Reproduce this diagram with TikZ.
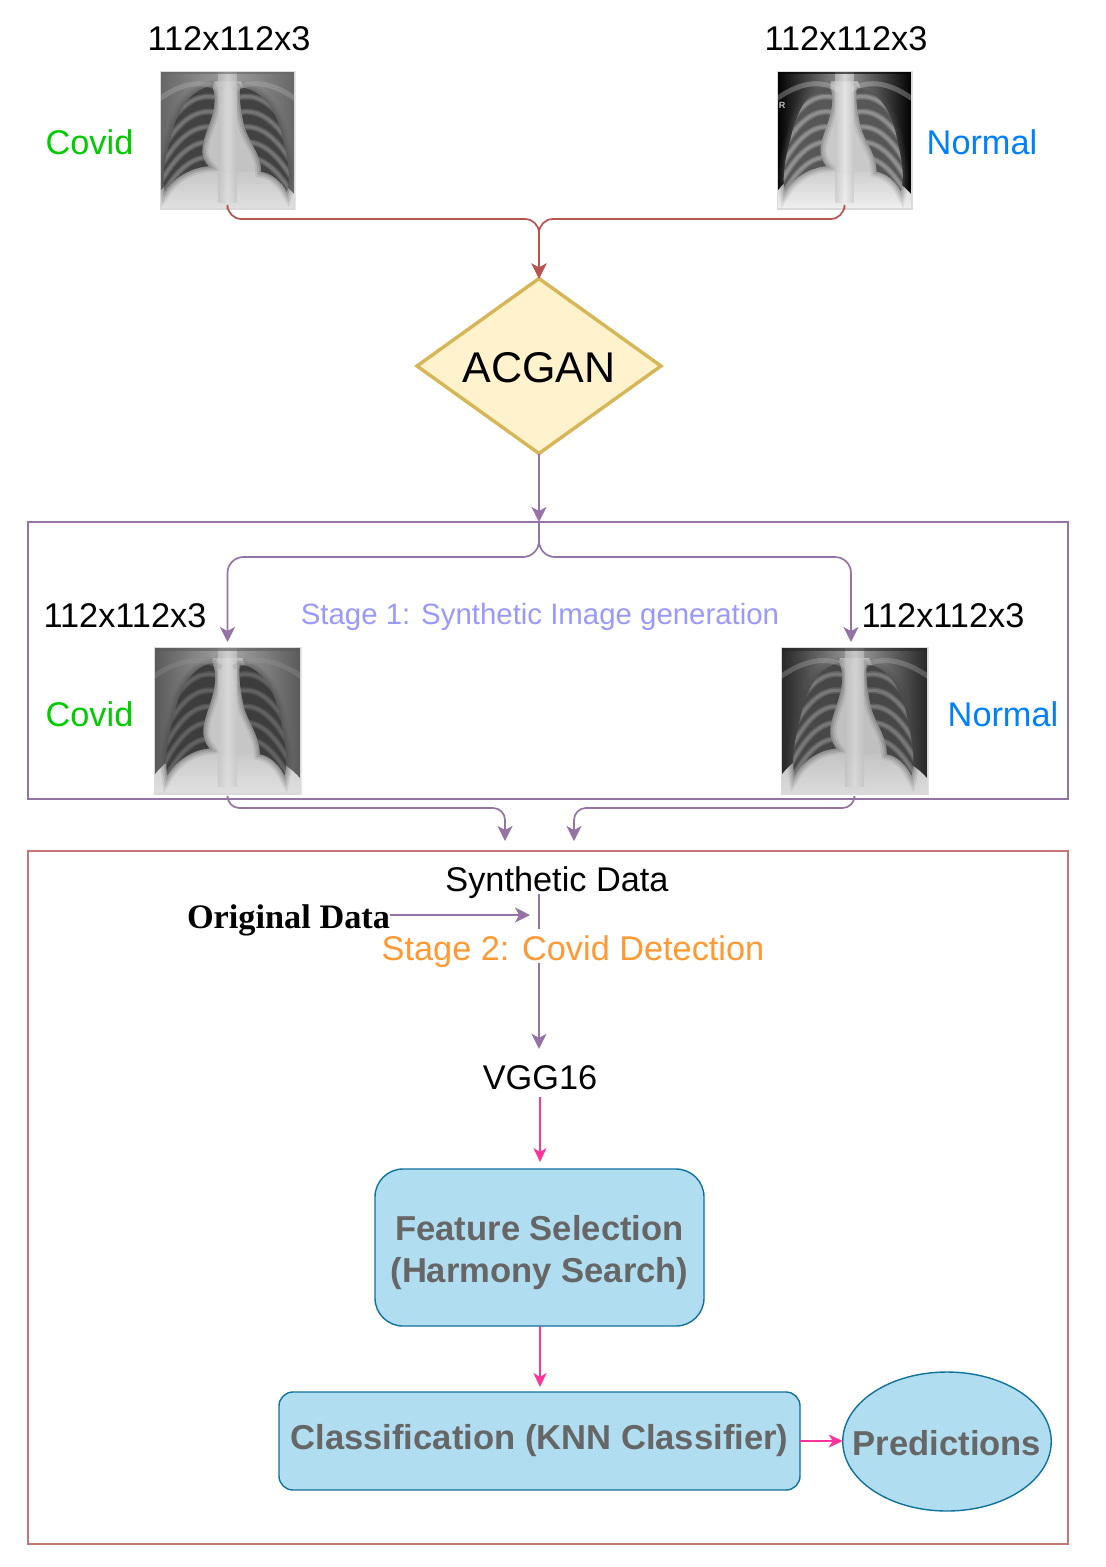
\documentclass[tikz,border=0pt]{standalone}
\usepackage{fontspec}
\setmainfont{Liberation Sans}
\newfontfamily\timesfont{Liberation Serif}
\usepackage{tikz}
\usetikzlibrary{arrows.meta, positioning, shapes.geometric}

\definecolor{linered}{HTML}{B85450}
\definecolor{linepurple}{HTML}{9673A6}
\definecolor{linepink}{HTML}{FF3399}
\definecolor{boxblue}{HTML}{B1DDF0}
\definecolor{edgeblue}{HTML}{10739E}
\definecolor{diafill}{HTML}{FFF2CC}
\definecolor{diaedge}{HTML}{D6B656}
\definecolor{covidgreen}{HTML}{00CC00}
\definecolor{normalblue}{HTML}{007FFF}
\definecolor{stagelilac}{HTML}{9999FF}
\definecolor{stageorange}{HTML}{FF9933}

\newcommand{\sizeA}{\fontsize{34.3}{41.5}\selectfont}
\newcommand{\sizeB}{\fontsize{34.6}{41.5}\selectfont}
\newcommand{\dropped}[2]{\raisebox{0pt}[\dimexpr\height+#1*2\relax][\depth]{#2}}
\newcommand{\lungL}{(-.23,-.78) .. controls (-.5,-.75) and (-.72,-.5) .. (-.82,-.1) .. controls (-.92,.25) and (-.98,.5) .. (-.93,.75) .. controls (-.8,.55) and (-.55,.4) .. (-.28,.38) .. controls (-.45,.2) and (-.35,0) .. (-.3,-.15) .. controls (-.2,-.4) and (-.15,-.6) .. cycle}
\newcommand{\lungR}{(.19,-.76) .. controls (.45,-.75) and (.7,-.5) .. (.8,-.1) .. controls (.88,.25) and (.95,.5) .. (.88,.75) .. controls (.8,.6) and (.65,.48) .. (.5,.46) .. controls (.5,.2) and (.3,0) .. (.25,-.2) .. controls (.2,-.4) and (.17,-.6) .. cycle}

\newcommand{\chestxray}[9]{%
	\begin{scope}[shift={(#1.center)}, x=#2*.5pt, y=-#3*.5pt]
		\colorlet{bodytone}{#5}
		\colorlet{bellytone}{#8}
		\colorlet{midtone}{bodytone!45!bellytone}
		\clip (-1,-1) rectangle (1,1);
		\shade[left color=#4, right color=#4, middle color=bodytone] (-1,-1) rectangle (1,1);
		\fill[midtone] (-.2,-.85) -- (.2,-.85) -- (.75,.6) -- (-.45,.6) -- cycle;
		\shade[top color=midtone, bottom color=bellytone] (-1,1) -- (-1,.75) .. controls (-.7,.35) and (-.3,.35) .. (0,.5) .. controls (.3,.4) and (.7,.45) .. (1,.8) -- (1,1) -- cycle;
		\begin{scope}[xscale=#9]
			\foreach \w/\o in {12/.1,8/.15,4/.2} {
				\draw[#6, line width=\w pt, opacity=\o] \lungL;
				\draw[#6, line width=\w pt, opacity=\o] \lungR;
			}
			\fill[#6] \lungL;
			\fill[#6] \lungR;
			\begin{scope}
				\clip \lungL;
				\foreach \r in {-.8,-.58,...,.6} {
					\draw[#7, line width=6pt, opacity=.2] (-.05,\r) .. controls (-.4,\r-.15) and (-.7,\r+.03) .. (-1,\r+.55);
					\draw[#7, line width=3pt, opacity=.25] (-.05,\r) .. controls (-.4,\r-.15) and (-.7,\r+.03) .. (-1,\r+.55);
				}
			\end{scope}
			\begin{scope}
				\clip \lungR;
				\foreach \r in {-.8,-.58,...,.6} {
					\draw[#7, line width=6pt, opacity=.2] (.05,\r) .. controls (.4,\r-.15) and (.7,\r+.03) .. (1,\r+.55);
					\draw[#7, line width=3pt, opacity=.25] (.05,\r) .. controls (.4,\r-.15) and (.7,\r+.03) .. (1,\r+.55);
				}
			\end{scope}
		\end{scope}
		\shade[left color=midtone, right color=midtone, middle color=bellytone, opacity=.7] (-.13,-1) rectangle (.13,.9);
		\draw[#7, line width=5pt, opacity=.3] (-1,-.6) .. controls (-.6,-.88) and (-.3,-.85) .. (-.08,-.72);
		\draw[#7, line width=5pt, opacity=.3] (1,-.6) .. controls (.6,-.88) and (.3,-.85) .. (.08,-.72);
		\fill[#4, opacity=.6] (-1,-1) rectangle (1,-.95);
		\draw[black!15, line width=1.5pt] (-1,-1) rectangle (1,1);
	\end{scope}
}

\begin{document}
\begin{tikzpicture}[x=1pt, y=-1pt]
	
	\tikzset{
		plain text/.style={font=\sizeA, inner sep=0pt},
		xray frame/.style={inner sep=0pt, outer sep=0pt},
		stage frame/.style={draw=#1, line width=1.7pt, inner sep=0pt, outer sep=0pt},
		flow box/.style={draw=edgeblue, fill=boxblue, line width=1.4pt, font=\sizeB\bfseries, text=black!60, align=center, inner sep=0pt, outer sep=0pt},
		flow red/.style={draw=linered, line width=1.7pt, rounded corners=14pt, -{Stealth[length=15pt,width=15pt,inset=4pt]}},
		flow plain/.style={draw=linepurple, line width=1.7pt},
		flow purple/.style={flow plain, rounded corners=16pt, -{Stealth[length=15pt,width=15pt,inset=4pt]}},
		flow pink/.style={draw=linepink, line width=1.8pt, -{Stealth[length=14pt,width=13pt,inset=4pt]}},
	}
	
	\useasboundingbox[fill=white] (0,0) rectangle (1106,1567);
	
	\node (stageA) [stage frame=linepurple, minimum width=1040pt, minimum height=277pt] at (548,660.5) {};
	\node (stageC) [stage frame=linered!80, minimum width=1040pt, minimum height=693pt] at (548,1197.5) {};
	
	\node (covA) [xray frame, minimum width=135pt, minimum height=138pt] at (227.5,140) {};
	\node (norA) [xray frame, minimum width=135pt, minimum height=138pt] at (844.5,140) {};
	\node (covB) [xray frame, minimum width=147pt, minimum height=147pt] at (227.5,720.5) {};
	\node (norB) [xray frame, minimum width=147pt, minimum height=147pt] at (854.5,720.5) {};
	
	\chestxray{covA}{135}{138}{black!60}{black!38}{black!74}{black!25}{black!12}{1}
	\chestxray{norA}{135}{138}{black}{black!40}{black!66}{black!10}{black!6}{.95}
	\chestxray{covB}{147}{147}{black!65}{black!35}{black!76}{black!40}{black!12}{.88}
	\chestxray{norB}{147}{147}{black!85}{black!38}{black!72}{black!25}{black!14}{.88}
	\node (tagR) [font=\fontsize{9}{9}\selectfont\bfseries, text=black!25, inner sep=0pt] at (782,105) {R};
	
	\node (sizeA) [plain text] at (229,39) {112x112x3};
	\node (sizeB) [plain text] at (846,39) {112x112x3};
	\node (sizeC) [plain text] at (125,616) {112x112x3};
	\node (sizeD) [plain text] at (943,616) {112x112x3};
	\node (nameA) [plain text, text=covidgreen] at (89.5,142) {Covid};
	\node (nameB) [plain text, text=normalblue] at (982,142) {Normal};
	\node (nameC) [plain text, text=covidgreen] at (89.5,714) {Covid};
	\node (nameD) [plain text, text=normalblue] at (1003,714) {Normal};
	
	\node (acgan) [diamond, draw=diaedge, fill=diafill, line width=3.4pt, aspect=1.39, minimum width=244pt, minimum height=175pt, inner sep=0pt, outer sep=0pt, font=\fontsize{43}{43}\selectfont] at (539,366) {\dropped{2pt}{ACGAN}};
	
	\coordinate (mergeA) at (539,219);
	\draw[flow red] (covA.south) |- (mergeA) -- (acgan.north);
	\draw[flow red] (norA.south) |- (mergeA) -- (acgan.north);
	
	\coordinate (topB) at (539,522);
	\coordinate (splitB) at (539,557);
	\coordinate (tipB) at (851,642);
	\draw[flow purple] (acgan.south) -- (topB);
	\draw[flow purple, shorten >=5pt] (topB) -- (splitB) -| (covB.north);
	\draw[flow purple] (topB) -- (splitB) -| (tipB);
	
	\node (stageAtext) [font=\fontsize{29.4}{32}\selectfont, text=stagelilac, inner sep=0pt] at (540,617) {Stage 1: Synthetic Image generation};
	
	\coordinate (tipL) at (505,841);
	\coordinate (tipR) at (574,841);
	\coordinate (elbowL) at (505,808);
	\coordinate (elbowR) at (574,808);
	\draw[flow purple, rounded corners=12pt] (covB.south |- stageA.south) |- (elbowL) -- (tipL);
	\draw[flow purple, rounded corners=12pt] (norB.south |- stageA.south) |- (elbowR) -- (tipR);
	
	\node (synth) [plain text] at (557,882.5) {Synthetic Data};
	\node (origin) [font=\sizeA\timesfont\bfseries, inner sep=0pt] at (288.5,920) {Original Data};
	\node (vgg) [plain text, minimum height=58pt] at (540,1078) {VGG16};
	\coordinate (topC) at (539,894);
	\coordinate (gapA) at (539,929);
	\coordinate (gapB) at (539,963);
	\coordinate (tipC) at (530,915);
	\draw[flow plain] (topC) -- (gapA);
	\draw[flow purple] (gapB) -- (vgg.north -| topC);
	\draw[flow purple] (origin.east |- tipC) -- (tipC);
	\node (stageCtext) [plain text, text=stageorange] at (573,951.5) {Stage 2: Covid Detection};
	
	\node (select) [flow box, rounded corners=28pt, minimum width=329pt, minimum height=157pt] at (539.5,1247.5) {\dropped{5pt}{\parbox{329pt}{\centering Feature Selection\\(Harmony Search)}}};
	\node (classify) [flow box, rounded corners=14pt, minimum width=521pt, minimum height=98pt] at (539.5,1441) {Classification (KNN Classifier)};
	\node (predict) [flow box, ellipse, inner xsep=-20.5pt, minimum width=208pt, minimum height=139pt] at (947,1441.5) {\dropped{2pt}{Predictions}};
	
	\draw[flow pink, shorten <=-10pt, shorten >=7pt] (vgg.south) -- (vgg.south |- select.north);
	\draw[flow pink, shorten >=5pt] (vgg.south |- select.south) -- (vgg.south |- classify.north);
	\draw[flow pink] (classify.east) -- (classify.east -| predict.west);
	
\end{tikzpicture}
\end{document}
